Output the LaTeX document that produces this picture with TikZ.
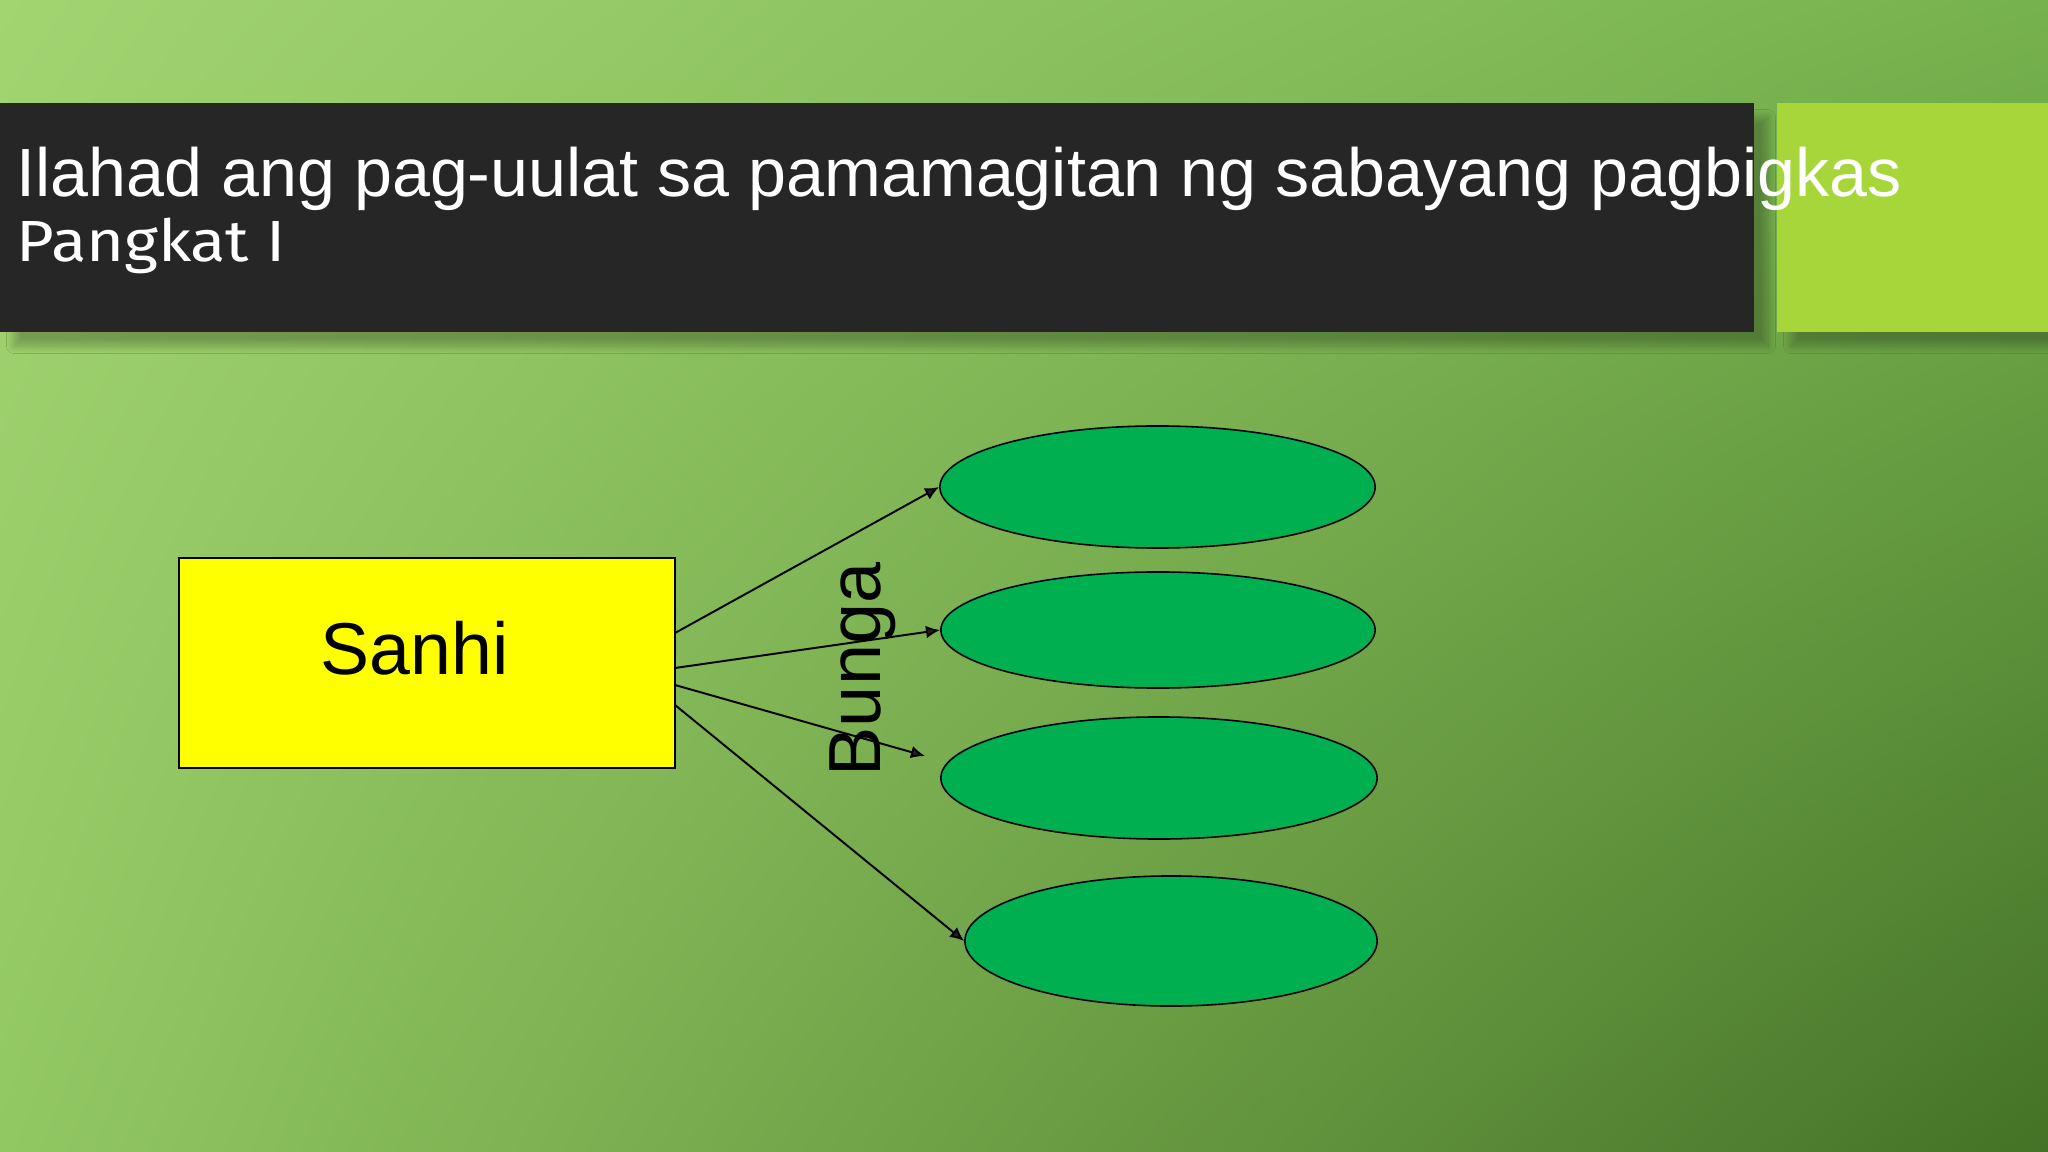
\documentclass[tikz,border=0pt]{standalone}
\usepackage{fontspec}
\setmainfont{Liberation Sans}
\newfontfamily\comicfont{Fira Sans}
\usetikzlibrary{shapes.geometric,arrows.meta,shadows.blur,shadings}
\definecolor{bgTL}{RGB}{162,212,112}
\definecolor{bgTR}{RGB}{118,178,78}
\definecolor{bgBL}{RGB}{146,200,98}
\definecolor{bgBR}{RGB}{68,114,38}
\definecolor{darkbar}{RGB}{38,38,38}
\definecolor{limebox}{RGB}{166,214,58}
\definecolor{ellgreen}{RGB}{0,176,80}
\definecolor{pureyellow}{RGB}{255,255,0}
\tikzset{
  px/.style={x=0.01cm,y=-0.01cm},
  bunga/.style={ellipse,draw=black,line width=0.45pt,fill=ellgreen,inner sep=0pt},
  sanhibox/.style={rectangle,draw=black,line width=0.5pt,fill=pureyellow,inner sep=0pt},
  conn/.style={line width=0.55pt,-{Latex[length=4pt,width=3.6pt]}},
  barshadow/.style={blur shadow={shadow xshift=4pt,shadow yshift=-4pt,shadow opacity=25,shadow blur steps=10}}
}
\begin{document}
\begin{tikzpicture}[px]
\useasboundingbox (0,0) rectangle (2048,1152);
\shade[upper left=bgTL,upper right=bgTR,lower left=bgBL,lower right=bgBR] (0,0) rectangle (2048,1152);
% header bars
\path[fill=darkbar,barshadow] (0,103) rectangle (1754,332);
\path[fill=limebox,barshadow] (1777,103) rectangle (2048,332);
\node[anchor=base west,inner sep=0pt,text=white,font=\fontsize{19.4pt}{22pt}\selectfont] (title) at (16,197) {Ilahad ang pag-uulat sa pamamagitan ng sabayang pagbigkas};
\node[anchor=base west,inner sep=0pt,text=white,xscale=1.12,font=\comicfont\fontsize{16.5pt}{18pt}\selectfont] (pangkat) at (16,262) {Pangkat I};
% cause box
\node[sanhibox,minimum width=4.96cm,minimum height=2.10cm] (sanhi) at (427,663) {};
\node[anchor=base west,inner sep=0pt,font=\fontsize{20.9pt}{24pt}\selectfont] (sanhitext) at (320,675) {Sanhi};
% effect ellipses
\node[bunga,minimum width=4.35cm,minimum height=1.22cm] (e1) at (1157.5,487) {};
\node[bunga,minimum width=4.34cm,minimum height=1.16cm] (e2) at (1158,630) {};
\node[bunga,minimum width=4.36cm,minimum height=1.22cm] (e3) at (1159,778) {};
\node[bunga,minimum width=4.12cm,minimum height=1.30cm] (e4) at (1171,941) {};
% connector points
\coordinate (s1) at (675,633);
\coordinate (s2) at (675,668);
\coordinate (s3) at (675,685);
\coordinate (s4) at (675,705);
\coordinate (t3) at (925,756);
\draw[conn] (s1) -- (e1.west);
\draw[conn] (s2) -- (e2.west);
\draw[conn] (s3) -- (t3);
\draw[conn] (s4) -- (e4.west);
\node[anchor=base west,inner sep=0pt,rotate=90,font=\fontsize{21pt}{24pt}\selectfont] (bungatext) at (880,777) {Bunga};
\end{tikzpicture}
\end{document}
